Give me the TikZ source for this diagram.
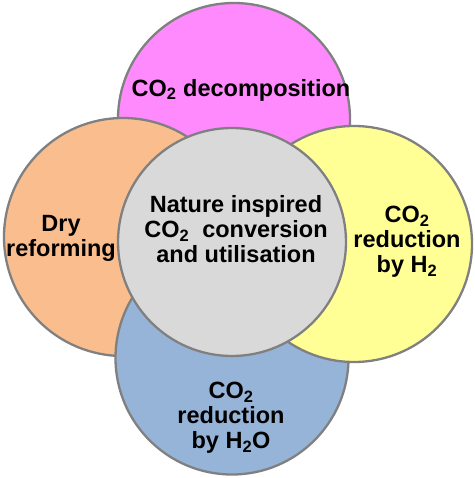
\documentclass[tikz,border=0pt]{standalone}
\usepackage{fontspec}
\setmainfont{Liberation Sans}
\definecolor{rimgrey}{RGB}{128,128,128}
\definecolor{pinkfill}{RGB}{255,138,253}
\definecolor{peachfill}{RGB}{250,190,142}
\definecolor{yellowfill}{RGB}{255,255,150}
\definecolor{bluefill}{RGB}{150,180,215}
\definecolor{greyfill}{RGB}{217,217,217}
\newcommand{\COtwo}{CO\textsubscript{2}}
\begin{document}
\begin{tikzpicture}[x=1pt, y=-1pt,
  petal/.style={circle, draw=rimgrey, line width=2.3pt, inner sep=0pt},
  lbl/.style={align=center, inner sep=0pt, font=\bfseries\fontsize{23.5}{25}\selectfont}]
\useasboundingbox (0,0) rectangle (474,478);
% circles, back to front
\node[petal, fill=pinkfill, minimum size=232pt] (pink) at (234,119) {};
\node[petal, fill=peachfill, minimum size=238pt] (peach) at (123,237) {};
\node[petal, fill=bluefill, minimum size=233pt] (blue) at (232,358) {};
\node[petal, fill=yellowfill, minimum size=236pt] (yellow) at (354,244) {};
\node[petal, fill=greyfill, minimum size=228pt] (core) at (232,242) {};
% labels
\node[lbl] (decomp) at (241,90) {\COtwo{} decomposition};
\node[lbl] (dry) at (61,238) {Dry\\reforming};
\node[lbl] (hydro) at (407,242) {\COtwo\\reduction\\by H\textsubscript{2}};
\node[lbl] (water) at (231,418) {\COtwo\\reduction\\by H\textsubscript{2}O};
\node[lbl] (nature) at (236,229) {Nature inspired\\\COtwo{}\ \ conversion\\and utilisation};
\end{tikzpicture}
\end{document}
